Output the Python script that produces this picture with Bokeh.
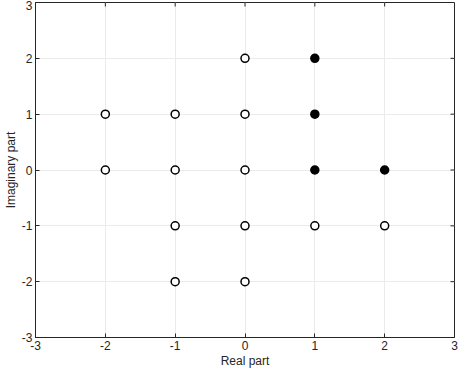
import numpy as np
from bokeh.plotting import figure
from bokeh.models import ColumnDataSource, Range1d, FixedTicker, CustomJSTickFormatter
from bokeh.embed import file_html
from bokeh.resources import INLINE

# Open (hollow) points
open_re = [-2, -2, -1, -1, -1, -1, 0, 0, 0, 0, 0, 1, 2]
open_im = [1, 0, 1, 0, -1, -2, 2, 1, 0, -1, -2, -1, -1]
# Filled points
fill_re = [1, 1, 1, 2]
fill_im = [2, 1, 0, 0]
ticks = [-3, -2, -1, 0, 1, 2, 3]

p = figure(width=458, height=370, output_backend="svg", toolbar_location=None,
           x_range=Range1d(-3, 3), y_range=Range1d(-3, 3),
           min_border_left=0, min_border_right=4, min_border_top=2, min_border_bottom=0,
           background_fill_color="white", border_fill_color="white")

p.outline_line_color = "#262626"
p.outline_line_width = 1

font = "Liberation Sans"
fmt = CustomJSTickFormatter(code="return tick.toString();")
for ax in (p.xaxis[0], p.yaxis[0]):
    ax.ticker = FixedTicker(ticks=ticks)
    ax.formatter = fmt
    ax.major_tick_in = 4
    ax.major_tick_out = 0
    ax.minor_tick_line_color = None
    ax.axis_line_color = "#262626"
    ax.major_tick_line_color = "#262626"
    ax.major_label_text_font = font
    ax.major_label_text_font_size = "12px"
    ax.major_label_text_color = "#262626"
    ax.axis_label_text_font = font
    ax.axis_label_text_font_size = "12px"
    ax.axis_label_text_font_style = "normal"
    ax.axis_label_text_color = "#262626"
    ax.major_label_standoff = 3
    ax.axis_label_standoff = 1

p.xaxis.axis_label = "Real part"
p.yaxis.axis_label = "Imaginary part"

p.xgrid.ticker = FixedTicker(ticks=ticks)
p.ygrid.ticker = FixedTicker(ticks=ticks)
p.grid.grid_line_color = "#ebebeb"
p.grid.grid_line_width = 1

# mirrored inward ticks on top and right edges (half clipped by the frame)
tk = np.array(ticks[1:-1])
p.scatter(tk, np.full(len(tk), 3.0), marker="dash", angle=np.pi / 2, size=8,
          line_color="#262626", line_width=1)
p.scatter(np.full(len(tk), 3.0), tk, marker="dash", size=8,
          line_color="#262626", line_width=1)

src_o = ColumnDataSource(dict(x=open_re, y=open_im))
src_f = ColumnDataSource(dict(x=fill_re, y=fill_im))
p.scatter("x", "y", source=src_o, size=8, marker="circle", fill_color="white",
          line_color="black", line_width=1.5)
p.scatter("x", "y", source=src_f, size=8, marker="circle", fill_color="black",
          line_color="black", line_width=1.5)

open("out.html", "w").write(file_html(p, INLINE))
